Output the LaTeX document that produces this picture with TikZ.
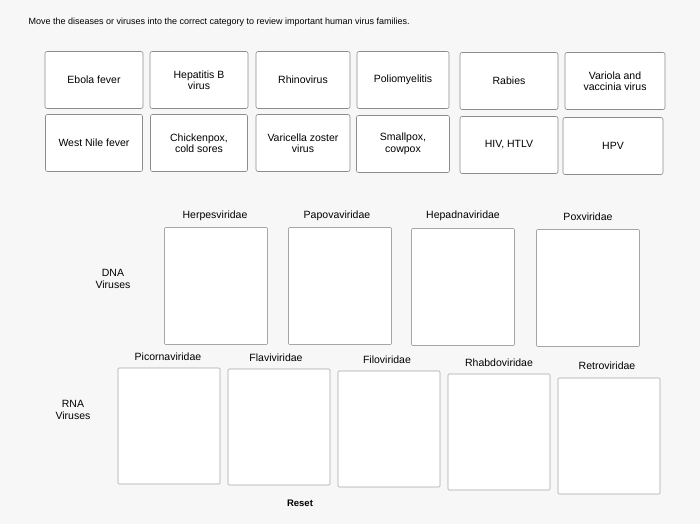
\documentclass[tikz,border=0pt]{standalone}
\usepackage{fontspec}
\setmainfont{Liberation Sans}
\begin{document}
\begin{tikzpicture}[x=1pt,y=-1pt,
  card/.style={draw=black!45,line width=0.6pt,rounded corners=2pt,fill=white,align=center,font=\fontsize{10.5}{11.5}\selectfont,inner sep=0pt},
  drop/.style={draw=black!35,line width=0.6pt,rounded corners=1pt,fill=white},
  hdr/.style={font=\fontsize{10.5}{12}\selectfont,anchor=center},
  lbl/.style={font=\fontsize{10.5}{11.5}\selectfont,align=center}]
\fill[black!3] (0,0) rectangle (700,524);
\useasboundingbox (0,0) rectangle (700,524);
\node[anchor=west,font=\fontsize{9}{10}\selectfont] (title) at (25,22) {Move the diseases or viruses into the correct category to review important human virus families.};
\foreach \n/\x/\w/\y/\t in {a/94/98/80/Ebola fever,b/199/98/80/{Hepatitis B\\virus},c/303/94/80/Rhinovirus,d/403/92/80/Poliomyelitis,e/509/98/81/Rabies,f/615/100/81/{Variola and\\vaccinia virus},
 g/94/97/143/West Nile fever,h/199/97/143/{Chickenpox,\\cold sores},i/303/94/143/{Varicella zoster\\virus},j/403/93/144/{Smallpox,\\cowpox},k/509/98/145/{HIV, HTLV},l/613/100/146/HPV}
  \node[card,minimum width=\w,minimum height=57] (\n) at (\x,\y) {\t};
\foreach \n/\x/\y/\t in {h1/215/216/Herpesviridae,h2/337/216/Papovaviridae,h3/463/216/Hepadnaviridae,h4/588/217/Poxviridae}
  \node[hdr] (\n) at (\x,\y) {\t};
\foreach \n/\x/\y in {b1/216/286,b2/340/286,b3/463/287,b4/588/288}
  \node[drop,minimum width=103,minimum height=117] (\n) at (\x,\y) {};
\node[lbl] (dna) at (113,279) {DNA\\Viruses};
\foreach \n/\x/\y/\t in {r1/168/357/Picornaviridae,r2/276/358/Flaviviridae,r3/387/360/Filoviridae,r4/499/363/Rhabdoviridae,r5/607/366/Retroviridae}
  \node[hdr] (\n) at (\x,\y) {\t};
\foreach \n/\x/\y in {c1/169/426,c2/279/427,c3/389/429,c4/499/432,c5/609/436}
  \node[drop,minimum width=102,minimum height=116] (\n) at (\x,\y) {};
\node[lbl] (rna) at (73,410) {RNA\\Viruses};
\node[font=\bfseries\fontsize{9.5}{10}\selectfont] (reset) at (300,503) {Reset};
\end{tikzpicture}
\end{document}
